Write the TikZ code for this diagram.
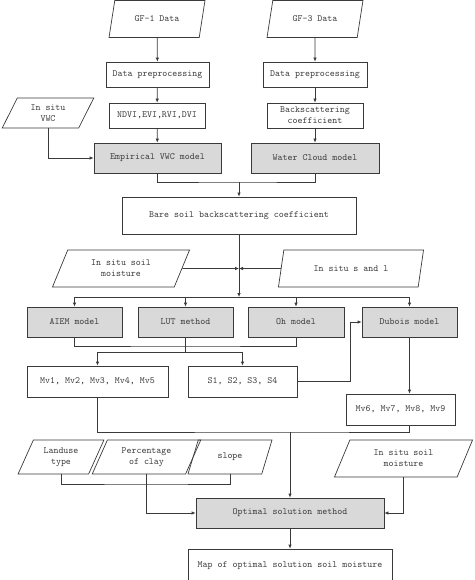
\documentclass[tikz,border=0pt]{standalone}
\usetikzlibrary{arrows.meta,shapes.geometric,positioning}
\definecolor{boxgray}{HTML}{D9D9D9}
\definecolor{linegray}{HTML}{3A3A3A}
\begin{document}
\begin{tikzpicture}[x=1pt, y=-1pt,
    font=\ttfamily\fontsize{9.5}{11}\selectfont,
    color=linegray, line width=0.7pt,
    >={Latex[length=4pt,width=3.5pt]},
    box/.style={draw, rectangle, inner sep=0pt, align=center},
    model/.style={box, fill=boxgray},
    data/.style={draw, trapezium, trapezium left angle=63, trapezium right angle=117,
        trapezium stretches=true, inner sep=0pt, align=center}]
    \useasboundingbox (0, 0) rectangle (474, 580);
    \node[data, minimum width=96, minimum height=37] (gf1) at (157, 19) {GF-1 Data};
    \node[data, minimum width=96, minimum height=37] (gf3) at (315, 19) {GF-3 Data};
    \node[box, minimum width=103, minimum height=25] (pre1) at (157.5, 74.5) {Data preprocessing};
    \node[box, minimum width=104, minimum height=25] (pre3) at (315, 74.5) {Data preprocessing};
    \node[box, minimum width=96, minimum height=25] (ndvi) at (157, 115.5) {NDVI,EVI,RVI,DVI};
    \node[box, minimum width=96, minimum height=25] (back) at (315, 115.5) {Backscattering\\coefficient};
    \node[data, minimum width=92, minimum height=30] (vwc) at (48, 113) {In situ\\VWC};
    \node[model, minimum width=127, minimum height=30] (emp) at (157.5, 158) {Empirical VWC model};
    \node[model, minimum width=128, minimum height=30] (wcm) at (315, 158) {Water Cloud model};
    \node[box, minimum width=234, minimum height=37] (bare) at (239, 215.5) {Bare soil backscattering coefficient};
    \node[data, minimum width=138, minimum height=37] (ism1) at (121, 268.5) {In situ soil\\moisture};
    \node[data, minimum width=146, minimum height=37] (isl) at (351, 268.5) {In situ s and l};
    \node[model, minimum width=95, minimum height=30] (aiem) at (74.5, 322) {AIEM model};
    \node[model, minimum width=95, minimum height=30] (lut) at (185.5, 322) {LUT method};
    \node[model, minimum width=96, minimum height=30] (oh) at (296, 322) {Oh model};
    \node[model, minimum width=95, minimum height=30] (dub) at (409.5, 322) {Dubois model};
    \node[box, minimum width=141, minimum height=31] (mv1) at (97.5, 381.5) {Mv1, Mv2, Mv3, Mv4, Mv5};
    \node[box, minimum width=109, minimum height=31] (s1) at (242.5, 381.5) {S1, S2, S3, S4};
    \node[box, minimum width=109, minimum height=31] (mv6) at (400.5, 409.5) {Mv6, Mv7, Mv8, Mv9};
    \node[data, minimum width=86, minimum height=34] (land) at (61, 457) {Landuse\\type};
    \node[data, minimum width=109, minimum height=34] (clay) at (146.5, 457) {Percentage\\of clay};
    \node[data, minimum width=84, minimum height=34] (slope) at (230, 457) {slope};
    \node[data, minimum width=139, minimum height=37] (ism2) at (403.5, 458.5) {In situ soil\\moisture};
    \node[model, minimum width=188, minimum height=30] (opt) at (290, 513) {Optimal solution method};
    \node[box, minimum width=204, minimum height=34] (map) at (290, 566) {Map of optimal solution soil moisture};
    \coordinate (j1) at (239, 182);
    \coordinate (j2) at (239, 297);
    \coordinate (j4) at (185.5, 346);
    \coordinate (j5) at (185.5, 352);
    \coordinate (j6) at (350, 322);
    \coordinate (j7) at (290, 432);
    \coordinate (j8) at (146.5, 484);
    \draw[->] (gf1) -- (pre1);
    \draw[->] (pre1) -- (ndvi);
    \draw[->] (ndvi) -- (emp);
    \draw[->] (gf3) -- (pre3);
    \draw[->] (pre3) -- (back);
    \draw[->] (back) -- (wcm);
    \draw[->] (vwc) |- (emp);
    \draw (emp) |- (j1) -| (wcm);
    \draw[->] (j1) -- (bare);
    \draw[->] (bare) -- (j2);
    \draw[->] (ism1) -- (ism1 -| bare);
    \draw[->] (isl) -- (isl -| bare);
    \draw[->] (j2) -| (aiem);
    \draw[->] (j2) -| (lut);
    \draw[->] (j2) -| (oh);
    \draw[->] (j2) -| (dub);
    \draw (aiem) |- (j4) -| (oh);
    \draw (lut) -- (j5);
    \draw[->] (j5) -| (mv1);
    \draw[->] (j5) -| (s1);
    \draw (s1) -| (j6);
    \draw[->] (j6) -- (dub);
    \draw[->] (dub.south) -- (dub.south |- mv6.north);
    \draw (mv1) |- (j7) -| (dub.south |- mv6.south);
    \draw[->] (j7) -- (opt);
    \draw (land) |- (j8) -| (slope);
    \draw[->] (clay) |- (opt);
    \draw[->] (ism2) |- (opt);
    \draw[->] (opt) -- (map);
\end{tikzpicture}
\end{document}
